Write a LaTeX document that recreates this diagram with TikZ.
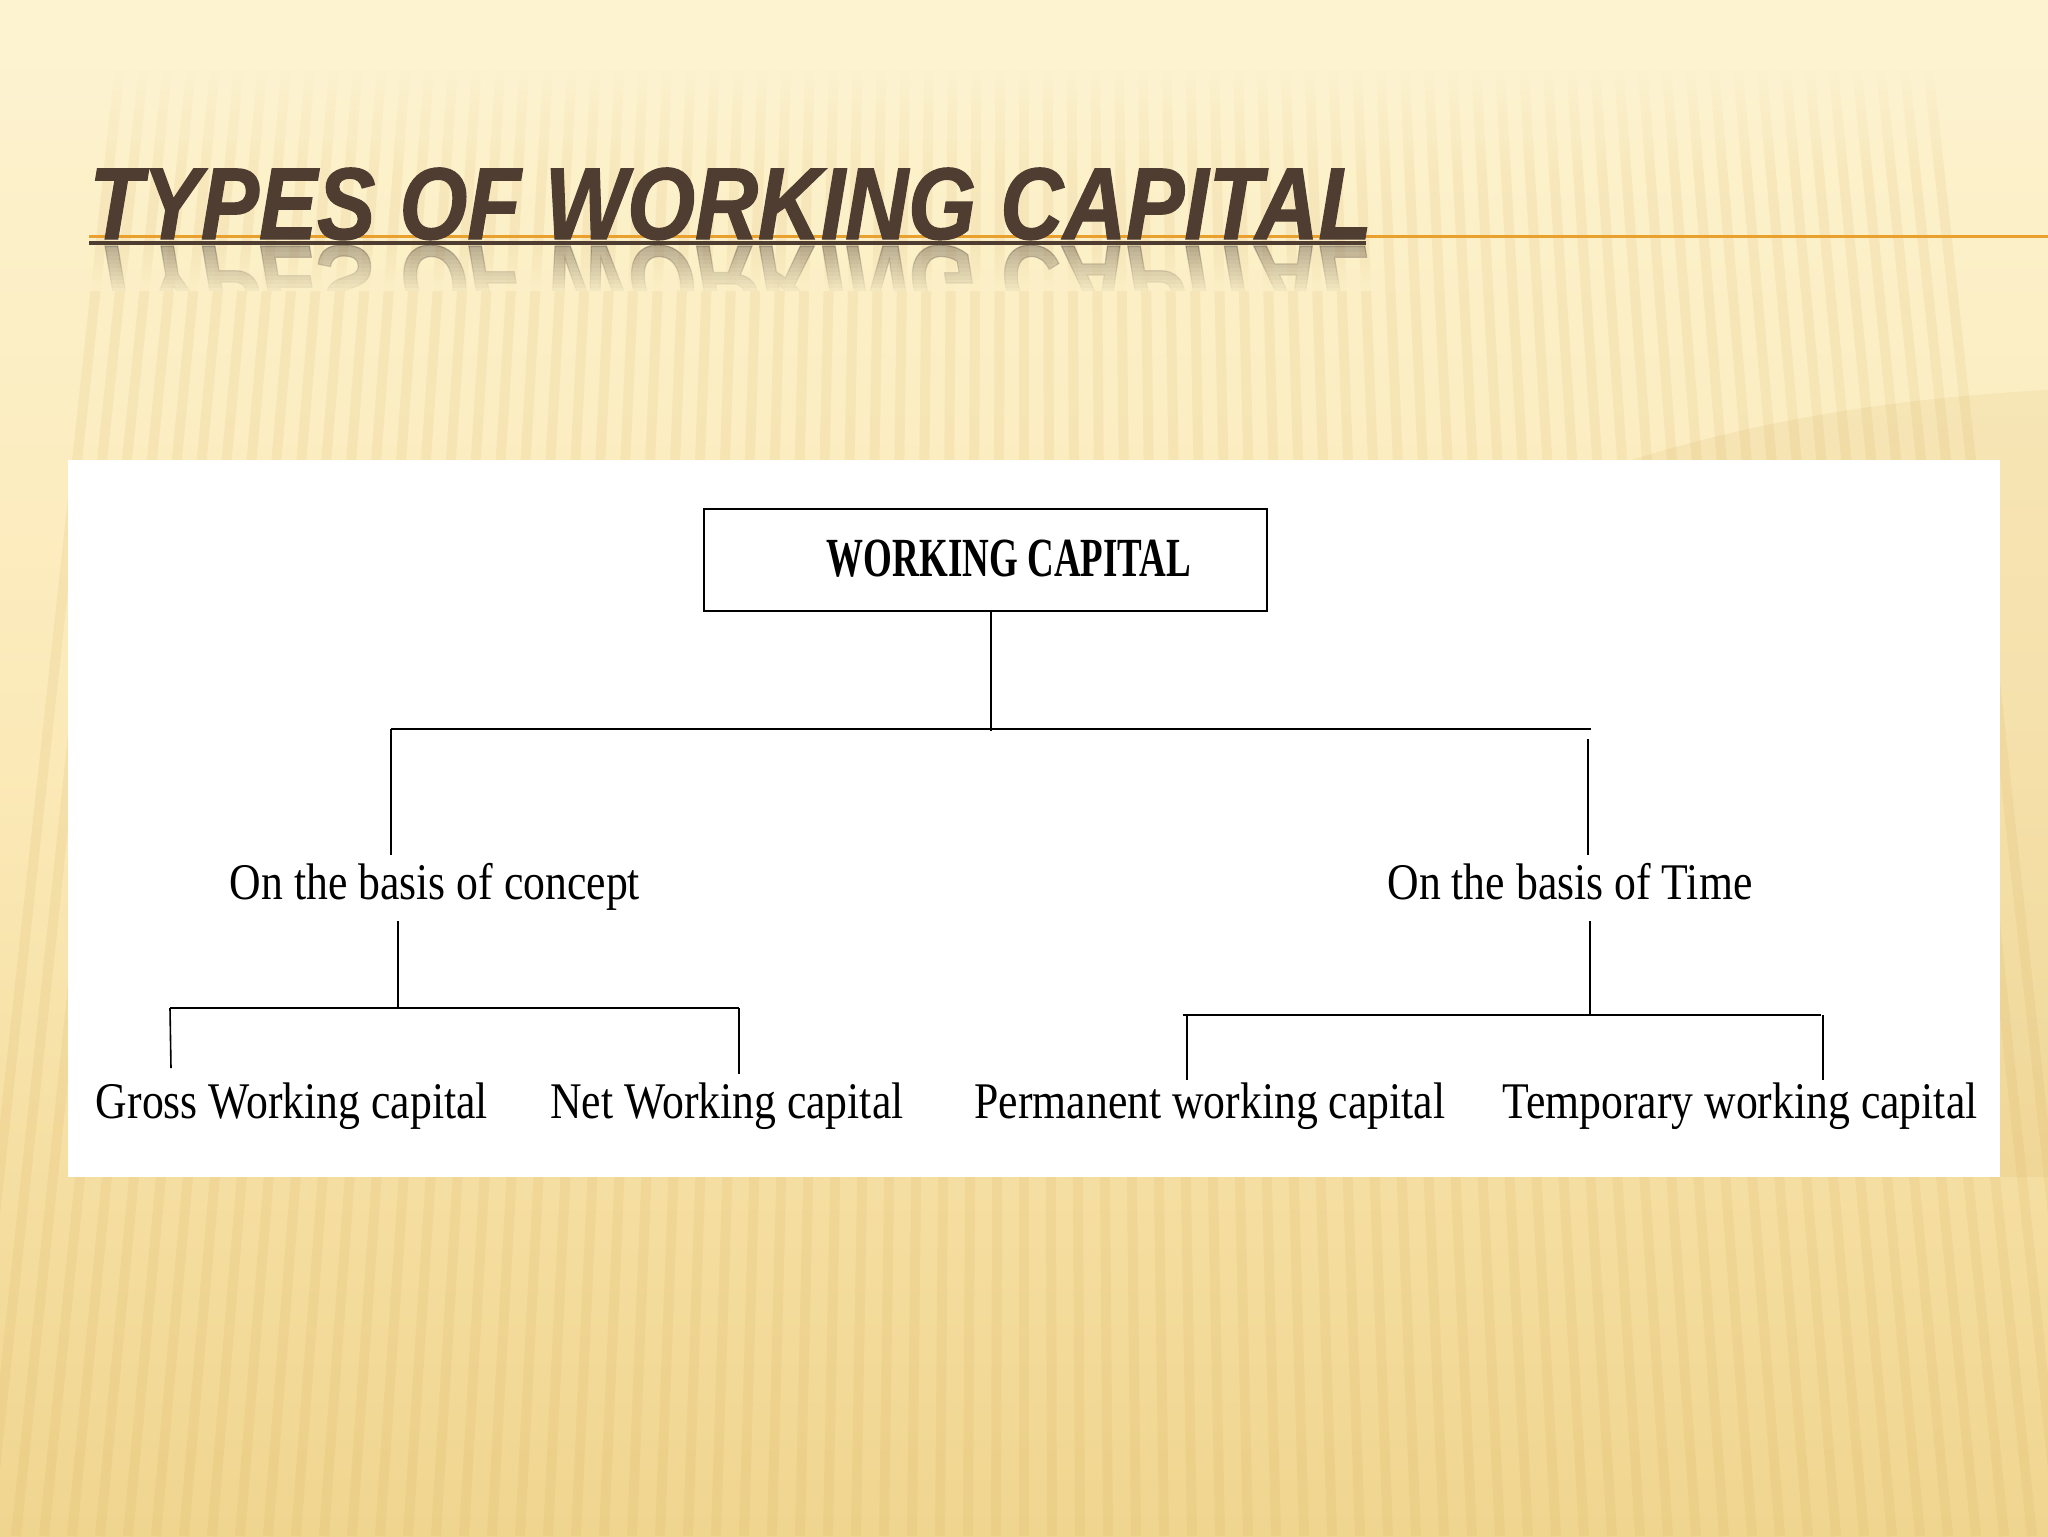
\documentclass[tikz,border=0pt]{standalone}
\usepackage{fontspec}
\setmainfont{Liberation Serif}
\newfontfamily\bodyfont[FakeStretch=0.85]{Liberation Serif}
\newfontfamily\boxfont[FakeStretch=0.67]{Liberation Serif}
\newfontfamily\titlefont[FakeStretch=0.855,FakeBold=1.2]{Liberation Sans}
\definecolor{bgtop}{RGB}{253,243,208}
\definecolor{bgmid}{RGB}{251,233,183}
\definecolor{bgbot}{RGB}{240,213,143}
\definecolor{bgtitle}{RGB}{252,240,199}
\definecolor{titlebrown}{RGB}{78,61,48}
\definecolor{lineorange}{RGB}{234,160,45}
\definecolor{stripecol}{RGB}{205,165,80}
\tikzset{
  titletext/.style={inner sep=0, text=titlebrown, font=\titlefont\bfseries\itshape\fontsize{51}{60}\selectfont},
  bodytext/.style={inner sep=0, font=\bodyfont\fontsize{25.7}{30}\selectfont},
  boxtext/.style={inner sep=0, font=\boxfont\bfseries\fontsize{27.6}{32}\selectfont},
  wcbox/.style={draw=black, line width=1.2pt, fill=white, minimum width=281.5pt, minimum height=51pt, inner sep=0},
  hline/.style={draw=black, line width=1.2pt},
  vline/.style={draw=black, line width=0.8pt},
}
\begin{document}
\begin{tikzpicture}[x=0.5pt,y=-0.5pt]
\useasboundingbox (0,0) rectangle (2048,1536);
% background
\shade[top color=bgtop, bottom color=bgbot, middle color=bgmid] (0,0) rectangle (2048,1536);
\foreach \i in {0,...,76} {
  \pgfmathsetmacro\xb{\i*28-40}
  \pgfmathsetmacro\xt{1024+(\xb-1024)*0.85}
  \draw[stripecol, line width=5pt, opacity=0.12] (\xt,70) -- (\xb,1536);
}
% soften the stripes towards the top
\fill[bgtop] (0,0) rectangle (2048,70);
\foreach \k in {0,...,9} {
  \pgfmathsetmacro\op{0.9-\k*0.09}
  \fill[bgtop, opacity=\op] (0,70+\k*10) rectangle (2048,80+\k*10);
}
% darker swoosh at right
\fill[stripecol, opacity=0.12] (1600,470) .. controls (1720,430) and (1860,400) .. (2048,390) -- (2048,1177) -- (1600,1177) -- cycle;
% title reflection
\begin{scope}
  \clip (86,244) rectangle (1372,290);
  \node[titletext, text=titlebrown!85!gray, yscale=-1, anchor=base west, opacity=0.42] (titleref) at (89,246) {TYPES OF WORKING CAPITAL};
  \foreach \k in {0,...,11} {
    \pgfmathsetmacro\op{0.06+\k*0.075}
    \fill[bgtitle, opacity=\op] (86,244+\k*4) rectangle (1372,248+\k*4);
  }
\end{scope}
% title lines
\draw[lineorange, line width=1.5pt] (89,236) -- (2048,236);
\node[titletext, anchor=base west] (title) at (89,239) {TYPES OF WORKING CAPITAL};
\draw[titlebrown, line width=2.2pt] (89,243) -- (1366,243);
% white panel
\fill[white] (68,460) rectangle (2000,1177);
% nodes
\node[wcbox] (wc) at (985.5,560) {};
\node[boxtext, anchor=base] (wct) at (1009,576) {WORKING CAPITAL};
\node[bodytext, anchor=base] (concept) at (435,899) {On the basis of concept};
\node[bodytext, anchor=base] (time) at (1570,899) {On the basis of Time};
\node[bodytext, anchor=base] (gross) at (292,1118) {Gross Working capital};
\node[bodytext, anchor=base] (net) at (727,1118) {Net Working capital};
\node[bodytext, anchor=base] (perm) at (1210,1118) {Permanent working capital};
\node[bodytext, anchor=base] (temp) at (1740,1118) {Temporary working capital};
% connector points
\coordinate (t0) at (991,611);
\coordinate (t1) at (991,731);
\coordinate (bl) at (391,729);
\coordinate (br) at (1591,729);
\coordinate (cl1) at (391,855);
\coordinate (cr0) at (1588,739);
\coordinate (cr1) at (1588,855);
\coordinate (c0) at (398,921);
\coordinate (c1) at (398,1008);
\coordinate (cb0) at (170,1008);
\coordinate (cb1) at (739,1008);
\coordinate (g1) at (171,1068);
\coordinate (n1) at (739,1074);
\coordinate (m0) at (1590,921);
\coordinate (m1) at (1590,1015);
\coordinate (mb0) at (1183,1015);
\coordinate (mb1) at (1821,1015);
\coordinate (p0) at (1187,1015);
\coordinate (p1) at (1187,1080);
\coordinate (q0) at (1823,1015);
\coordinate (q1) at (1823,1080);
% connectors
\draw[vline] (t0) -- (t1);
\draw[hline] (bl) -- (br);
\draw[vline] (bl) -- (cl1);
\draw[vline] (cr0) -- (cr1);
\draw[vline] (c0) -- (c1);
\draw[hline] (cb0) -- (cb1);
\draw[vline] (cb0) -- (g1);
\draw[vline] (cb1) -- (n1);
\draw[vline] (m0) -- (m1);
\draw[hline] (mb0) -- (mb1);
\draw[vline] (p0) -- (p1);
\draw[vline] (q0) -- (q1);
\end{tikzpicture}
\end{document}
